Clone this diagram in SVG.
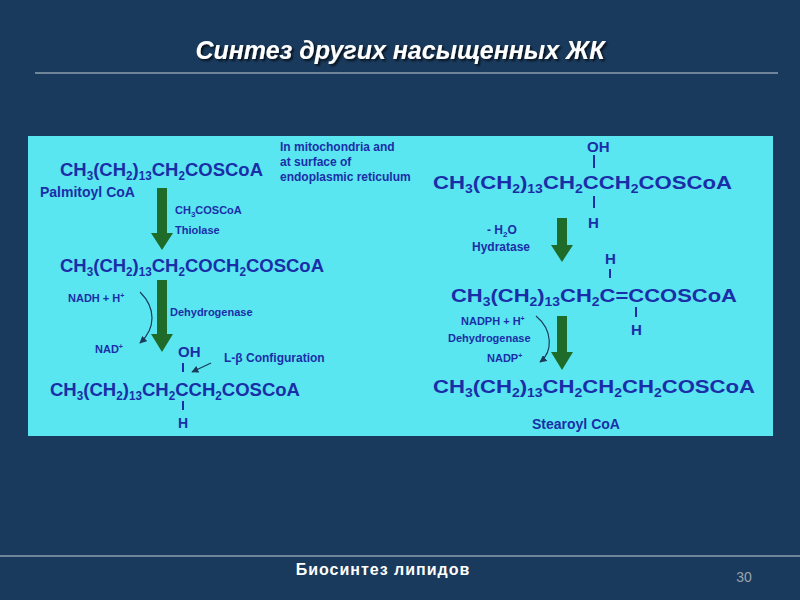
<svg xmlns="http://www.w3.org/2000/svg" width="800" height="600" viewBox="0 0 800 600">
<defs>
<style>
.t{font-family:"Liberation Sans",Arial,sans-serif;font-weight:bold;fill:#1a2ea8}
.f{font-size:19px}
.s{font-size:12px}
.sub{font-size:12px}
.ar{fill:#1f6b2a}
.thin{fill:none;stroke:#1a3a5a;stroke-width:1.2}
</style>
<filter id="sh" x="-5%" y="-20%" width="110%" height="150%"><feDropShadow dx="2" dy="2" stdDeviation="0.8" flood-color="#000" flood-opacity="0.7"/></filter>
<marker id="m" viewBox="0 0 10 10" refX="9" refY="5" markerWidth="6" markerHeight="6" orient="auto"><path d="M0,0L10,5L0,10z" fill="#1a3a5a"/></marker>
</defs>
<rect width="800" height="600" fill="#193a5c"/>
<text x="400" y="59" text-anchor="middle" font-family="Liberation Sans,Arial,sans-serif" font-size="25" font-weight="bold" font-style="italic" fill="#fff" filter="url(#sh)">Синтез других насыщенных ЖК</text>
<line x1="35" y1="73" x2="778" y2="73" stroke="#c8d0d8" stroke-width="1"/>
<line x1="0" y1="556" x2="800" y2="556" stroke="#c8d0d8" stroke-width="1"/>
<text x="383" y="575" text-anchor="middle" font-family="Liberation Sans,Arial,sans-serif" font-size="16" font-weight="bold" fill="#fff" letter-spacing="1">Биосинтез  липидов</text>
<text x="744" y="582" text-anchor="middle" font-family="Liberation Sans,Arial,sans-serif" font-size="14" fill="#9aa4ae">30</text>
<rect x="28" y="136" width="745" height="300" fill="#5ae6f0"/>
<g id="left">
<text class="t f" x="60" y="176" textLength="203" lengthAdjust="spacingAndGlyphs">CH<tspan class="sub" dy="4">3</tspan><tspan dy="-4">(CH</tspan><tspan class="sub" dy="4">2</tspan><tspan dy="-4">)</tspan><tspan class="sub" dy="4">13</tspan><tspan dy="-4">CH</tspan><tspan class="sub" dy="4">2</tspan><tspan dy="-4">COSCoA</tspan></text>
<text class="t" x="40" y="197" font-size="14">Palmitoyl CoA</text>
<text class="t s" x="280" y="151">In mitochondria and</text>
<text class="t s" x="280" y="166">at surface of</text>
<text class="t s" x="280" y="181">endoplasmic reticulum</text>
<polygon class="ar" points="157,188 167,188 167,233 173,233 162,250 151,233 157,233"/>
<text class="t" x="175" y="214" font-size="11">CH<tspan font-size="8" dy="3">3</tspan><tspan dy="-3">COSCoA</tspan></text>
<text class="t" x="175" y="234" font-size="11">Thiolase</text>
<text class="t f" x="60" y="272" textLength="264" lengthAdjust="spacingAndGlyphs">CH<tspan class="sub" dy="4">3</tspan><tspan dy="-4">(CH</tspan><tspan class="sub" dy="4">2</tspan><tspan dy="-4">)</tspan><tspan class="sub" dy="4">13</tspan><tspan dy="-4">CH</tspan><tspan class="sub" dy="4">2</tspan><tspan dy="-4">COCH</tspan><tspan class="sub" dy="4">2</tspan><tspan dy="-4">COSCoA</tspan></text>
<polygon class="ar" points="157,280 167,280 167,334 173,334 162,352 151,334 157,334"/>
<text class="t" x="68" y="302" font-size="11">NADH + H<tspan font-size="7" dy="-4">+</tspan></text>
<path class="thin" d="M140,292 C156,308 156,328 140,343" marker-end="url(#m)"/>
<text class="t" x="170" y="316" font-size="11">Dehydrogenase</text>
<text class="t" x="95" y="353" font-size="11">NAD<tspan font-size="7" dy="-4">+</tspan></text>
<text class="t" x="178" y="357" font-size="15">OH</text>
<text class="t" x="224" y="362" font-size="12">L-β Configuration</text>
<line x1="211" y1="363" x2="192" y2="372" stroke="#1a3a5a" stroke-width="1.2" marker-end="url(#m)"/>
<line x1="183" y1="363" x2="183" y2="372" stroke="#1a2ea8" stroke-width="2"/>
<text class="t f" x="50" y="396" textLength="250" lengthAdjust="spacingAndGlyphs">CH<tspan class="sub" dy="4">3</tspan><tspan dy="-4">(CH</tspan><tspan class="sub" dy="4">2</tspan><tspan dy="-4">)</tspan><tspan class="sub" dy="4">13</tspan><tspan dy="-4">CH</tspan><tspan class="sub" dy="4">2</tspan><tspan dy="-4">CCH</tspan><tspan class="sub" dy="4">2</tspan><tspan dy="-4">COSCoA</tspan></text>
<line x1="183" y1="401" x2="183" y2="410" stroke="#1a2ea8" stroke-width="2"/>
<text class="t" x="178" y="428" font-size="14">H</text>
</g>
<g id="right">
<text class="t" x="587" y="152" font-size="15">OH</text>
<line x1="594" y1="155" x2="594" y2="168" stroke="#1a2ea8" stroke-width="2"/>
<text class="t f" x="433" y="189" textLength="299" lengthAdjust="spacingAndGlyphs">CH<tspan class="sub" dy="4">3</tspan><tspan dy="-4">(CH</tspan><tspan class="sub" dy="4">2</tspan><tspan dy="-4">)</tspan><tspan class="sub" dy="4">13</tspan><tspan dy="-4">CH</tspan><tspan class="sub" dy="4">2</tspan><tspan dy="-4">CCH</tspan><tspan class="sub" dy="4">2</tspan><tspan dy="-4">COSCoA</tspan></text>
<line x1="594" y1="196" x2="594" y2="208" stroke="#1a2ea8" stroke-width="2"/>
<text class="t" x="588" y="228" font-size="15">H</text>
<text class="t" x="487" y="234" font-size="12">- H<tspan font-size="8" dy="3">2</tspan><tspan dy="-3">O</tspan></text>
<text class="t" x="472" y="251" font-size="12">Hydratase</text>
<polygon class="ar" points="557,218 567,218 567,245 573,245 562,262 551,245 557,245"/>
<text class="t" x="605" y="264" font-size="15">H</text>
<line x1="610" y1="269" x2="610" y2="278" stroke="#1a2ea8" stroke-width="2"/>
<text class="t f" x="451" y="302" textLength="286" lengthAdjust="spacingAndGlyphs">CH<tspan class="sub" dy="4">3</tspan><tspan dy="-4">(CH</tspan><tspan class="sub" dy="4">2</tspan><tspan dy="-4">)</tspan><tspan class="sub" dy="4">13</tspan><tspan dy="-4">CH</tspan><tspan class="sub" dy="4">2</tspan><tspan dy="-4">C=CCOSCoA</tspan></text>
<line x1="636" y1="307" x2="636" y2="317" stroke="#1a2ea8" stroke-width="2"/>
<text class="t" x="631" y="335" font-size="15">H</text>
<text class="t" x="461" y="325" font-size="11">NADPH + H<tspan font-size="7" dy="-4">+</tspan></text>
<text class="t" x="448" y="342" font-size="11">Dehydrogenase</text>
<text class="t" x="487" y="362" font-size="11">NADP<tspan font-size="7" dy="-4">+</tspan></text>
<path class="thin" d="M536,316 C553,330 553,352 540,362" marker-end="url(#m)"/>
<polygon class="ar" points="557,316 567,316 567,352 573,352 562,370 551,352 557,352"/>
<text class="t f" x="433" y="393" textLength="322" lengthAdjust="spacingAndGlyphs">CH<tspan class="sub" dy="4">3</tspan><tspan dy="-4">(CH</tspan><tspan class="sub" dy="4">2</tspan><tspan dy="-4">)</tspan><tspan class="sub" dy="4">13</tspan><tspan dy="-4">CH</tspan><tspan class="sub" dy="4">2</tspan><tspan dy="-4">CH</tspan><tspan class="sub" dy="4">2</tspan><tspan dy="-4">CH</tspan><tspan class="sub" dy="4">2</tspan><tspan dy="-4">COSCoA</tspan></text>
<text class="t" x="532" y="429" font-size="14">Stearoyl CoA</text>
</g>
</svg>
